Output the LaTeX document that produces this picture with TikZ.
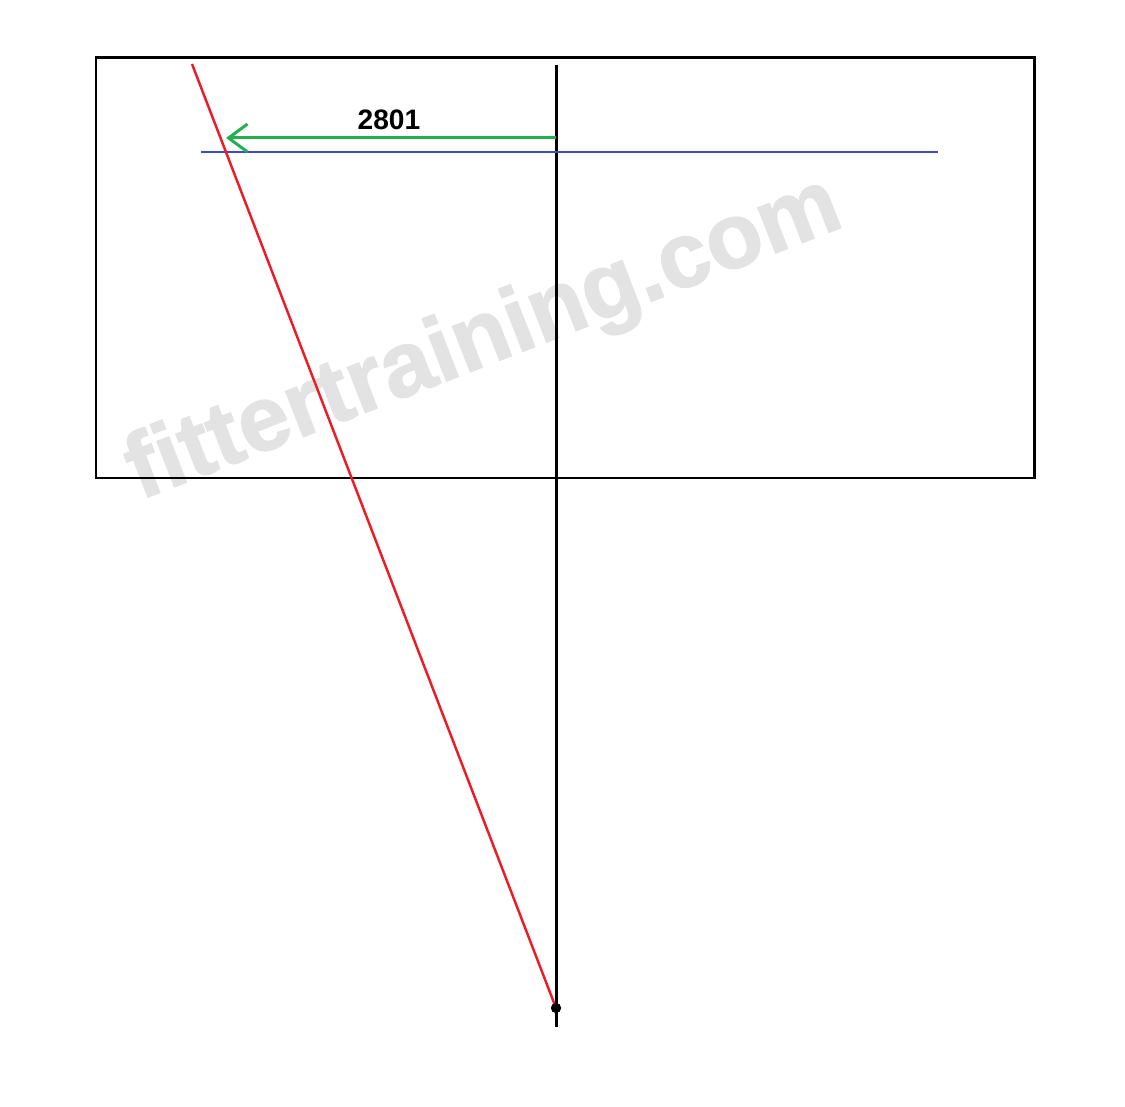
\documentclass[tikz,border=0pt]{standalone}
\usepackage{fontspec}
\setsansfont{Liberation Sans}
\newfontfamily\markfont[FakeBold=1.5]{Liberation Sans Bold}
\usetikzlibrary{arrows.meta,positioning}
\tikzset{>=latex}

\begin{document}
\begin{tikzpicture}[x=0.01cm, y=-0.01cm, font=\sffamily]
		\definecolor{axisred}{RGB}{237,28,36}
		\definecolor{levelblue}{RGB}{63,72,204}
		\definecolor{dimgreen}{RGB}{34,177,76}
		\colorlet{markcolor}{black!11}
		\tikzset{frame/.style={draw=black,line width=0.85pt}}
		\tikzset{plumb/.style={draw=black,line width=0.85pt}}
		\tikzset{level/.style={draw=levelblue,line width=0.7pt}}
		\tikzset{ray/.style={draw=axisred,line width=0.7pt}}
		\tikzset{dim/.style={draw=dimgreen,line width=0.85pt,-{Straight Barb[length=1.9mm,width=2.8mm]}}}
		\useasboundingbox (0,0) rectangle (1125,1107);

		% Watermark
		\node[anchor=base,rotate=21.25,text=markcolor,font=\markfont\fontsize{26.2}{30}\selectfont,inner sep=0pt] (mark) at (493,363) {fittertraining.com};

		% Frame
		\draw[frame] (96,58) rectangle (1034,478);
		\coordinate (frame top) at (556,65);

		% Vertical line
		\coordinate (plumb bottom) at (556,1027);
		\draw[plumb] (frame top) -- (plumb bottom);

		% Level line
		\coordinate (level left) at (201,152);
		\coordinate (level right) at (938,152);
		\draw[level] (level left) -- (level right);

		% Inclined line
		\node[circle,fill=black,inner sep=0pt,minimum size=0.1cm] (pivot) at (556,1008) {};
		\coordinate (ray top) at (192,64);
		\draw[ray] (ray top) -- (pivot.center);
		\node[circle,fill=black,inner sep=0pt,minimum size=0.1cm] at (pivot) {};

		% Dimension
		\coordinate (dim start) at (556,138);
		\coordinate (dim end) at (226,138);
		\draw[dim] (dim start) -- (dim end);
		\node[font=\sffamily\bfseries\fontsize{8}{9}\selectfont] (value) at (389,120) {2801};
	\end{tikzpicture}
\end{document}
